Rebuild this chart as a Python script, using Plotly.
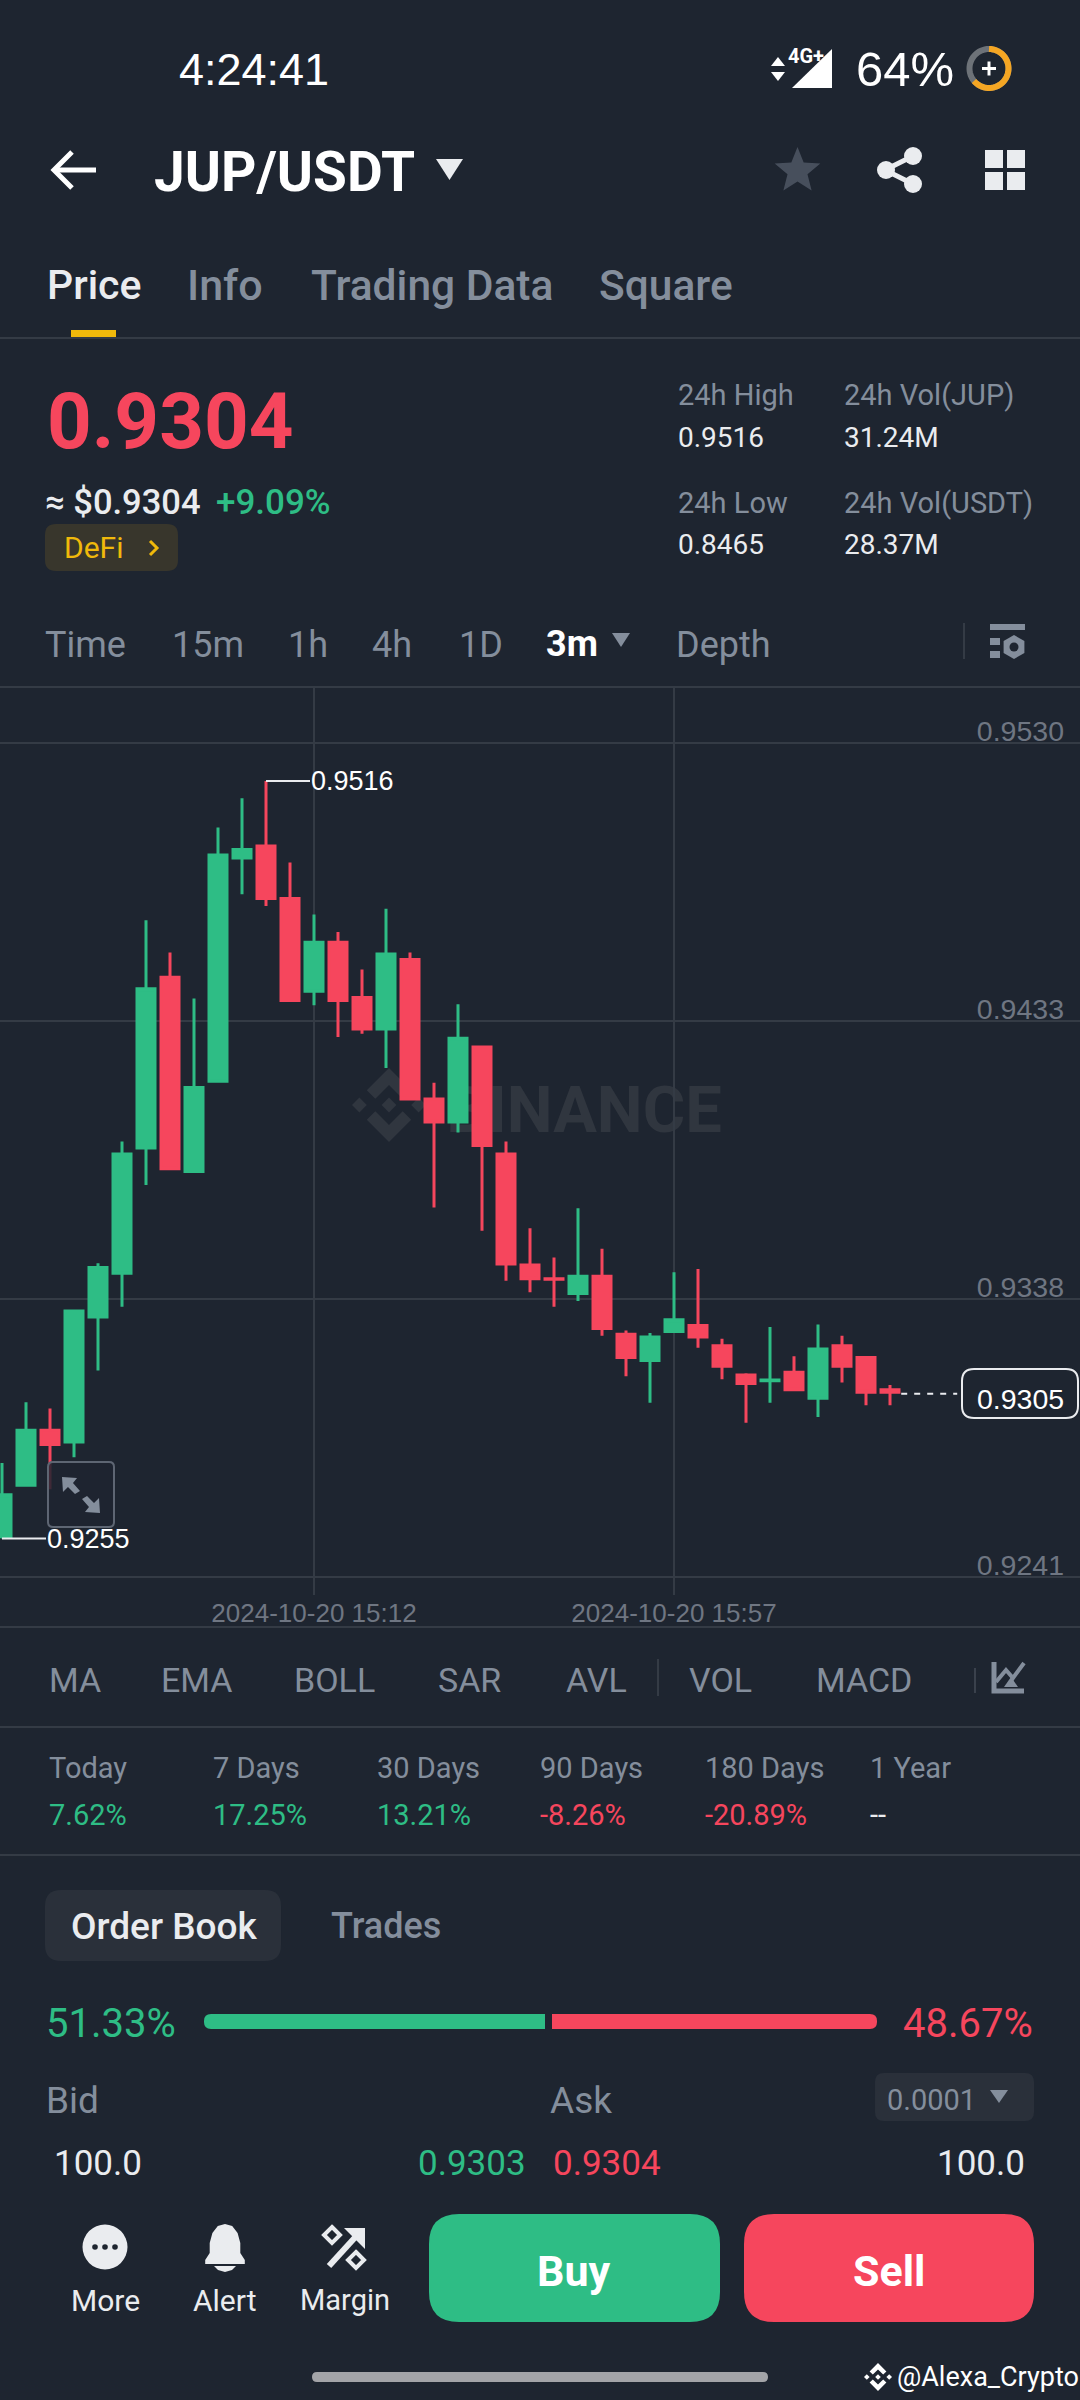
import numpy as np
import pandas as pd
import plotly.graph_objects as go

# ---------- chart data ----------
times = pd.date_range("2024-10-20 14:33", periods=38, freq="3min")
open_ = [.92551,.92729,.92919,.92879,.93312,.93463,.93897,.94489,.93816,.94128,
         .94902,.94943,.94761,.94440,.94610,.94418,.94309,.94550,.94067,.93987,
         .94247,.93876,.93492,.93444,.93393,.93453,.93252,.93161,.93261,.93282,
         .93212,.93111,.93091,.93120,.93030,.93212,.93171,.93060]
high_ = [.92806,.93016,.92995,.93337,.93498,.93920,.94686,.94574,.94415,.95007,
         .95109,.95168,.94886,.94706,.94645,.94515,.94726,.94574,.94123,.94395,
         .94252,.93920,.93619,.93518,.93688,.93548,.93265,.93256,.93467,.93478,
         .93236,.93117,.93277,.93176,.93286,.93247,.93176,.93076]
low_ = [.92544,.92724,.92715,.92826,.93126,.93347,.93769,.93825,.93816,.94128,
        .94776,.94735,.94408,.94392,.94282,.94293,.94174,.94062,.93691,.93951,
        .93610,.93437,.93397,.93347,.93367,.93247,.93106,.93015,.93256,.93205,
        .93096,.92945,.93015,.93055,.92965,.93085,.93006,.93006]
close_ = [.92696,.92919,.92870,.93332,.93483,.93876,.94449,.93825,.94107,.94912,
          .94931,.94761,.94408,.94610,.94408,.94309,.94569,.94067,.93987,.94277,
          .93906,.93495,.93444,.93442,.93453,.93272,.93171,.93242,.93302,.93242,
          .93141,.93081,.93093,.93060,.93201,.93141,.93051,.93051]
y_ticks = [.9530, .94337, .93374, .92411]
y_labels = ["0.9530", "0.9433", "0.9338", "0.9241"]
x_ticks = ["2024-10-20 15:12", "2024-10-20 15:57"]
last_price = .93046
high_label, low_label, last_label = "0.9516", "0.9255", "0.9305"

BG = "#1e2530"; GRID = "#343b45"; GREY = "#848e9c"; WHITE = "#eaecef"
GREEN = "#2ebd85"; RED = "#f6465d"; YELLOW = "#f0b90b"; PILL = "#2a303a"
AXIS_TXT = "#6f7682"
UI = "Roboto"; THIN = "Liberation Sans"

W, H = 1080, 2400
def X(x): return x / W
def Y(y): return 1 - y / H

shapes, annots = [], []

def T(text, x, y, size, color=GREY, anchor="left", weight=400, family=UI):
    if anchor == "left":
        x -= 1.5
    annots.append(dict(text=text, x=X(x), y=Y(y), xref="paper", yref="paper", showarrow=False,
                       xanchor=anchor, yanchor="middle", borderpad=0,
                       font=dict(family=family, size=size, color=color, weight=weight)))

def pathstr(pts, close=True):
    s = "M" + " L".join(f"{X(px):.5f},{Y(py):.5f}" for px, py in pts)
    return s + (" Z" if close else "")

def poly(pts, fill, layer="above"):
    shapes.append(dict(type="path", path=pathstr(pts), xref="paper", yref="paper", layer=layer,
                       fillcolor=fill, line=dict(width=0)))

def stroke(pts, color, width, close=False):
    shapes.append(dict(type="path", path=pathstr(pts, close), xref="paper", yref="paper",
                       fillcolor="rgba(0,0,0,0)", line=dict(color=color, width=width)))

def hline(y, color=GRID, width=2, x0=0, x1=W):
    shapes.append(dict(type="line", xref="paper", yref="paper", x0=X(x0), x1=X(x1), y0=Y(y), y1=Y(y),
                       line=dict(color=color, width=width)))

def vline(x, y0, y1, color=GRID, width=2):
    shapes.append(dict(type="line", xref="paper", yref="paper", x0=X(x), x1=X(x), y0=Y(y0), y1=Y(y1),
                       line=dict(color=color, width=width)))

def circle(cx, cy, r, fill, line=None, lw=0):
    shapes.append(dict(type="circle", xref="paper", yref="paper", x0=X(cx - r), x1=X(cx + r),
                       y0=Y(cy + r), y1=Y(cy - r), fillcolor=fill,
                       line=dict(color=line or fill, width=lw)))

def rrect(x0, y0, x1, y1, r, fill, line=None, lw=0):
    def p(a, b): return f"{X(a):.5f},{Y(b):.5f}"
    d = (f"M{p(x0+r,y0)} L{p(x1-r,y0)} Q{p(x1,y0)} {p(x1,y0+r)} L{p(x1,y1-r)} Q{p(x1,y1)} {p(x1-r,y1)} "
         f"L{p(x0+r,y1)} Q{p(x0,y1)} {p(x0,y1-r)} L{p(x0,y0+r)} Q{p(x0,y0)} {p(x0+r,y0)} Z")
    shapes.append(dict(type="path", path=d, xref="paper", yref="paper", fillcolor=fill,
                       line=dict(color=line or fill, width=lw)))

def logo(cx, cy, s, fill, layer="above"):
    for dx, dy in [(0, 0), (-.8, 0), (.8, 0)]:
        poly([(cx + (dx) * s, cy - .2 * s), (cx + (dx + .2) * s, cy), (cx + dx * s, cy + .2 * s),
              (cx + (dx - .2) * s, cy)], fill, layer)
    for sgn in (-1, 1):
        c = [(0, 1), (.6, .4), (.37, .17), (0, .54), (-.37, .17), (-.6, .4)]
        poly([(cx + a * s, cy + sgn * b * s) for a, b in c], fill, layer)

# ---------- status bar ----------
T("4:24:41", 179, 69, 45, "#ffffff", family=THIN)
T("64%", 856, 69, 49, "#ffffff", family=THIN)
poly([(792, 88), (832, 88), (832, 49)], "#ffffff")
T("4G+", 788, 56, 20, "#ffffff", weight=700)
poly([(771, 66), (785, 66), (778, 57)], "#ffffff")
poly([(771, 72), (785, 72), (778, 81)], "#ffffff")
ang = np.linspace(0, 2 * np.pi, 60)
stroke([(989 + 19.5 * np.sin(a), 68.5 - 19.5 * np.cos(a)) for a in ang], "#6d7278", 6, close=True)
ang = np.linspace(0, 2 * np.pi * .64, 40)
stroke([(989 + 19.5 * np.sin(a), 68.5 - 19.5 * np.cos(a)) for a in ang], "#f5a623", 6)
hline(68.5, "#ffffff", 3, 982, 996)
vline(989, 61.5, 75.5, "#ffffff", 3)

# ---------- header ----------
stroke([(54, 170), (96, 170)], "#ffffff", 5)
stroke([(72, 152), (54, 170), (72, 188)], "#ffffff", 5)
T("JUP/USDT", 154, 172, 55, "#ffffff", weight=700)
poly([(436, 159), (463, 159), (449.5, 180)], WHITE)
star = []
for k in range(10):
    r = 24 if k % 2 == 0 else 10.5
    a = k * np.pi / 5
    star.append((797.5 + r * np.sin(a), 171 - r * np.cos(a)))
poly(star, "#474f5c")
stroke([(913, 156), (885, 170), (913, 184)], WHITE, 5)
circle(913, 156, 9, WHITE); circle(886, 170, 9, WHITE); circle(913, 184, 9, WHITE)
for gx in (985, 1007):
    for gy in (150, 172):
        poly([(gx, gy), (gx + 18, gy), (gx + 18, gy + 18), (gx, gy + 18)], WHITE)

# ---------- tabs ----------
T("Price", 47, 285, 41, WHITE, weight=500)
T("Info", 187, 285, 43, GREY, weight=500)
T("Trading Data", 311, 285, 42.5, GREY, weight=500)
T("Square", 599, 285, 42.5, GREY, weight=500)
poly([(71, 330), (116, 330), (116, 337), (71, 337)], YELLOW)
hline(338)

# ---------- price summary ----------
T("0.9304", 47, 421, 78, RED, weight=700)
T("≈ $0.9304", 45, 502, 34.5, WHITE, weight=500)
T("+9.09%", 216, 502, 35, GREEN, weight=500)
rrect(45, 524, 178, 571, 11, "#38362c")
T("DeFi", 64, 548, 30, YELLOW)
stroke([(150, 541), (157, 548), (150, 555)], YELLOW, 3)
T("24h High", 678, 395, 29); T("0.9516", 678, 437, 28, WHITE)
T("24h Vol(JUP)", 844, 395, 29); T("31.24M", 844, 437, 28, WHITE)
T("24h Low", 678, 503, 29); T("0.8465", 678, 545, 28, WHITE)
T("24h Vol(USDT)", 844, 503, 29); T("28.37M", 844, 545, 28, WHITE)

# ---------- timeframe row ----------
for lab, x in [("Time", 45), ("15m", 172), ("1h", 288), ("4h", 372), ("1D", 459), ("Depth", 676)]:
    T(lab, x, 645, 36)
T("3m", 547, 644, 36, "#ffffff", weight=700)
poly([(612, 633), (630, 633), (621, 647)], GREY)
vline(964, 623, 659)
poly([(990, 624), (1025, 624), (1025, 630), (990, 630)], GREY)
poly([(990, 638), (1000, 638), (1000, 645), (990, 645)], GREY)
poly([(990, 651), (1000, 651), (1000, 658), (990, 658)], GREY)
poly([(1014 + 12 * np.sin(a), 647 - 12 * np.cos(a)) for a in np.arange(6) * np.pi / 3], GREY)
circle(1014, 647, 4.5, BG)

# ---------- chart frame ----------
hline(687)
hline(1627)

# watermark (below the candles)
logo(389, 1105, 37, "#30363f", layer="below")
shapes.append(dict(type="rect", xref="paper", yref="paper", layer="below",
                   x0=X(434), x1=X(734), y0=Y(1140), y1=Y(1070),
                   fillcolor="rgba(0,0,0,0)", line=dict(width=0),
                   label=dict(text="BINANCE", textposition="middle center",
                              font=dict(family=UI, size=65, color="#30363f", weight=700))))

# expand button
rrect(48, 1462, 114, 1527, 5, "rgba(30,37,48,0.85)", "#5e6673", 2)
poly([(62, 1477), (77, 1478), (73, 1483), (80, 1491), (75, 1494), (68, 1487), (63, 1492)], GREY)
poly([(100, 1513), (85, 1512), (89, 1507), (82, 1499), (87, 1496), (94, 1503), (99, 1498)], GREY)

# last price box
rrect(962, 1369, 1078, 1418, 12, BG, WHITE, 2)
T(last_label, 977, 1399, 28.5, "#ffffff", family=THIN)

# ---------- indicator row ----------
for lab, x in [("MA", 49), ("EMA", 161), ("BOLL", 294), ("SAR", 438), ("AVL", 566), ("VOL", 689), ("MACD", 816)]:
    T(lab, x, 1680, 34)
vline(975, 1668, 1693, "#3a414c", 2)
vline(658, 1659, 1696)
stroke([(994, 1662), (994, 1691), (1024, 1691)], GREY, 5)
stroke([(996, 1682), (1006, 1670), (1013, 1678), (1024, 1663)], GREY, 4)
poly([(1004, 1687), (1018, 1687), (1011, 1677)], GREY)
hline(1727)

periods = ["Today", "7 Days", "30 Days", "90 Days", "180 Days", "1 Year"]
period_vals = ["7.62%", "17.25%", "13.21%", "-8.26%", "-20.89%", "--"]
period_cols = [GREEN, GREEN, GREEN, RED, RED, WHITE]
for lab, val, col, x in zip(periods, period_vals, period_cols, [49, 213, 377, 540, 705, 870]):
    T(lab, x, 1768, 29)
    T(val, x, 1815, 29, col)
hline(1855)

# ---------- order book ----------
rrect(45, 1890, 281, 1961, 16, PILL)
T("Order Book", 71, 1926, 37, WHITE, weight=500)
T("Trades", 331, 1926, 36, GREY, weight=500)
T("51.33%", 46, 2023, 40, GREEN)
T("48.67%", 1034, 2023, 40, RED, anchor="right")
rrect(204, 2014, 545, 2029, 7, GREEN)
poly([(530, 2014), (545, 2014), (545, 2029), (530, 2029)], GREEN)
rrect(552, 2014, 877, 2029, 7, RED)
poly([(552, 2014), (567, 2014), (567, 2029), (552, 2029)], RED)
T("Bid", 46, 2100, 37)
T("Ask", 550, 2100, 37)
rrect(875, 2073, 1034, 2121, 9, PILL)
T("0.0001", 887, 2100, 29)
poly([(990, 2090), (1008, 2090), (999, 2103)], GREY)
T("100.0", 54, 2163, 35, WHITE)
T("0.9303", 527, 2163, 35, GREEN, anchor="right")
T("0.9304", 553, 2163, 35, RED)
T("100.0", 1026, 2163, 35, WHITE, anchor="right")

# ---------- bottom bar ----------
circle(105, 2247, 22.5, WHITE)
for dx in (-10, 0, 10):
    circle(105 + dx, 2247, 2.8, BG)
T("More", 105, 2300, 30, WHITE, anchor="center")
bell = [(225 + .9 * a, 2224 + b) for a, b in
        [(0, 0), (8, 2), (14, 9), (17, 19), (17, 29), (22, 36), (22, 40), (-22, 40), (-22, 36),
         (-17, 29), (-17, 19), (-14, 9), (-8, 2)]]
poly(bell, WHITE)
poly([(214, 2266), (236, 2266), (232, 2270), (225, 2272), (218, 2270)], WHITE)
T("Alert", 225, 2300, 30, WHITE, anchor="center")
stroke([(329, 2266), (360, 2232)], WHITE, 6)
poly([(344, 2228), (365, 2228), (365, 2249)], WHITE)
for cx, cy in [(332, 2235), (356, 2260)]:
    stroke([(cx, cy - 8), (cx + 8, cy), (cx, cy + 8), (cx - 8, cy)], WHITE, 4, close=True)
T("Margin", 345, 2300, 29, WHITE, anchor="center")
rrect(429, 2214, 720, 2322, 30, GREEN)
T("Buy", 574, 2271, 43, "#ffffff", anchor="center", weight=700)
rrect(744, 2214, 1034, 2322, 30, RED)
T("Sell", 889, 2271, 43, "#ffffff", anchor="center", weight=700)
rrect(312, 2372, 768, 2382, 5, "#a3a4a8")
logo(878, 2377, 14, "#ffffff")
T("@Alexa_Crypto", 897, 2377, 27, "#ffffff")

# ---------- annotated extremes, tied to the data ----------
i_hi = int(np.argmax(high_)); i_lo = int(np.argmin(low_))
for i, v, lab in [(i_hi, high_[i_hi], high_label), (i_lo, low_[i_lo], low_label)]:
    annots.append(dict(x=times[i], y=v, xref="x", yref="y", text=lab, showarrow=True, arrowhead=0,
                       arrowwidth=2, arrowcolor=WHITE, ax=44, ay=0, xanchor="left", yanchor="middle",
                       standoff=0, startstandoff=0, borderpad=0,
                       font=dict(family=THIN, size=27, color="#ffffff")))

# ---------- figure ----------
fig = go.Figure()
fig.add_trace(go.Candlestick(
    x=times, open=open_, high=high_, low=low_, close=close_,
    increasing=dict(line=dict(color=GREEN, width=3), fillcolor=GREEN),
    decreasing=dict(line=dict(color=RED, width=3), fillcolor=RED),
    whiskerwidth=0, showlegend=False, hoverinfo="skip"))
fig.add_trace(go.Scatter(
    x=[times[-1] + pd.Timedelta(seconds=84), times[-1] + pd.Timedelta(seconds=504)],
    y=[last_price, last_price], mode="lines",
    line=dict(color=WHITE, width=2, dash="6px,7px"), showlegend=False, hoverinfo="skip"))

fig.update_layout(
    width=W, height=H, margin=dict(l=0, r=0, t=0, b=0, pad=0), autosize=False,
    paper_bgcolor=BG, plot_bgcolor=BG, boxgap=0.25, boxgroupgap=0, hovermode=False, showlegend=False,
    shapes=shapes, annotations=annots,
    xaxis=dict(domain=[0, 1], type="date", range=["2024-10-20 14:32:45", "2024-10-20 16:47:45"],
               rangeslider=dict(visible=False), tickmode="array", tickvals=x_ticks, ticktext=x_ticks,
               showgrid=True, gridcolor=GRID, gridwidth=2, zeroline=False, showline=False,
               ticks="", ticklen=0,
               tickfont=dict(family=THIN, size=26, color=AXIS_TXT)),
    yaxis=dict(domain=[1 - 1595 / H, 1 - 686 / H], range=[.923486, .954975], side="right",
               tickmode="array", tickvals=y_ticks, ticktext=y_labels,
               ticklabelposition="inside top", ticklabelstandoff=13, ticklabelshift=8,
               showgrid=True, gridcolor=GRID, gridwidth=2, zeroline=False, showline=False, ticks="",
               tickfont=dict(family=THIN, size=28.5, color=AXIS_TXT)),
)

fig.write_html("out.html", config=dict(displayModeBar=False),
               post_script="document.body.style.margin='0';document.documentElement.style.overflow='hidden';")
